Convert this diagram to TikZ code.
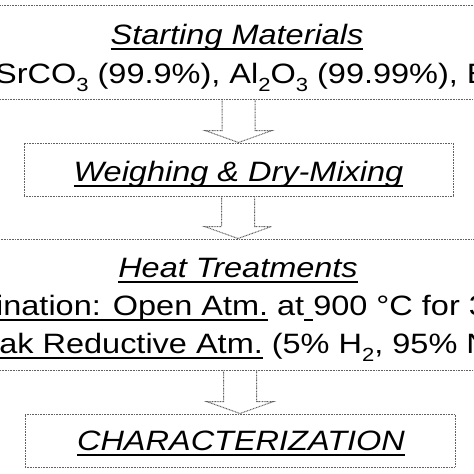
\documentclass[tikz,border=0pt]{standalone}
\usepackage{fontspec}
\setmainfont{Liberation Sans}[FakeStretch=1.16]
\usetikzlibrary{calc}
\newcommand\myul[1]{\setbox0\hbox{#1}\rlap{\rule[-5.5pt]{\wd0}{2pt}}\box0\relax}
\newcommand\mysub[1]{\raisebox{-8.5pt}{\fontsize{19}{19}\selectfont #1}}
\newcommand\blockarrow[2]{%
  \draw[dotline] let \p1=(#1.south), \p2=(#2.north) in
    (\x2-16.5pt,\y1) -- (\x2-16.5pt,\y2+12pt) -- (\x2-33.5pt,\y2+12pt) -- (\x2,\y2)
    -- (\x2+33.5pt,\y2+12pt) -- (\x2+16.5pt,\y2+12pt) -- (\x2+16.5pt,\y1);}
\begin{document}
\begin{tikzpicture}[x=1pt,y=-1pt,
  dotline/.style={draw=black!62, line width=1pt, dash pattern=on 0.9pt off 0.7pt},
  boxnode/.style={dotline, rectangle, inner sep=0pt},
  bodytxt/.style={font=\fontsize{28}{28}\selectfont, inner sep=0pt},
  headtxt/.style={font=\itshape\fontsize{28}{28}\selectfont, inner sep=0pt}]
\useasboundingbox (0,0) rectangle (474,474);
\clip (0,0) rectangle (474,474);
\fill[white] (0,0) rectangle (474,474);
\node[boxnode, minimum width=540pt, minimum height=94pt] (b1) at (238,52) {};
\node[boxnode, minimum width=429pt, minimum height=53pt] (b2) at (238.5,169.5) {};
\node[boxnode, minimum width=540pt, minimum height=131pt] (b3) at (238,304.5) {};
\node[boxnode, minimum width=430pt, minimum height=53pt] (b4) at (240,440.5) {};
\blockarrow{b1}{b2}
\blockarrow{b2}{b3}
\blockarrow{b3}{b4}
\node[headtxt, anchor=base] (t1) at (237,44.5) {\myul{Starting Materials}};
\node[bodytxt, anchor=base west] (t2) at (-5,83.3) {SrCO\mysub{3} (99.9\%), Al\mysub{2}O\mysub{3} (99.99\%), E};
\node[headtxt, anchor=base] (t3) at (238.5,181) {\myul{Weighing \& Dry-Mixing}};
\node[headtxt, anchor=base] (t4) at (238,277) {\myul{Heat Treatments}};
\node[bodytxt, anchor=base west] (t5) at (-69,315) {\myul{Calcination: Open Atm.} at\myul{\ }900 °C for 3};
\node[bodytxt, anchor=base west] (t6) at (-49,353) {\myul{Weak Reductive Atm.} (5\% H\mysub{2}, 95\% N};
\node[headtxt, anchor=base] (t7) at (241,450) {\myul{CHARACTERIZATION}};
\end{tikzpicture}
\end{document}
